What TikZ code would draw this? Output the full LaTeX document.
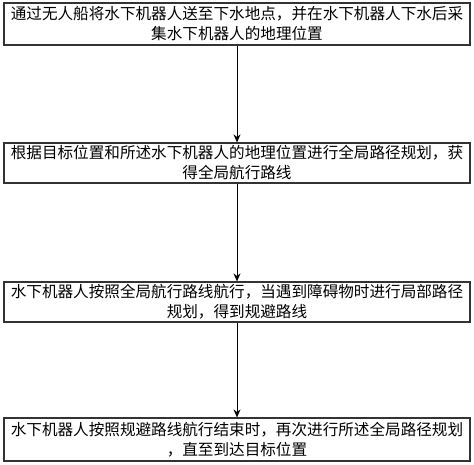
\documentclass[tikz,border=0pt]{standalone}
\usepackage{fontspec}
\setmainfont{Noto Sans CJK SC}
\usetikzlibrary{arrows.meta}
\begin{document}
\begin{tikzpicture}[x=1pt,y=-1pt,
  stepbox/.style={draw=black!80, line width=1.2pt, minimum width=466pt, inner sep=0pt, align=center, font=\fontsize{15.6}{20}\selectfont},
  flow/.style={draw=black, line width=1pt, -{Stealth[length=8pt,width=7pt]}}]
\useasboundingbox (0,0) rectangle (474,464);
\node[stepbox, minimum height=42pt] (b1) at (237,24) {通过无人船将水下机器人送至下水地点，并在水下机器人下水后采\\集水下机器人的地理位置};
\node[stepbox, minimum height=40pt] (b2) at (237,163) {根据目标位置和所述水下机器人的地理位置进行全局路径规划，获\\得全局航行路线};
\node[stepbox, minimum height=40pt] (b3) at (237,302) {水下机器人按照全局航行路线航行，当遇到障碍物时进行局部路径\\规划，得到规避路线};
\node[stepbox, minimum height=43pt] (b4) at (237,439.5) {水下机器人按照规避路线航行结束时，再次进行所述全局路径规划\\，直至到达目标位置};
\draw[flow] (b1) -- (b2);
\draw[flow] (b2) -- (b3);
\draw[flow] (b3) -- (b4);
\end{tikzpicture}
\end{document}
